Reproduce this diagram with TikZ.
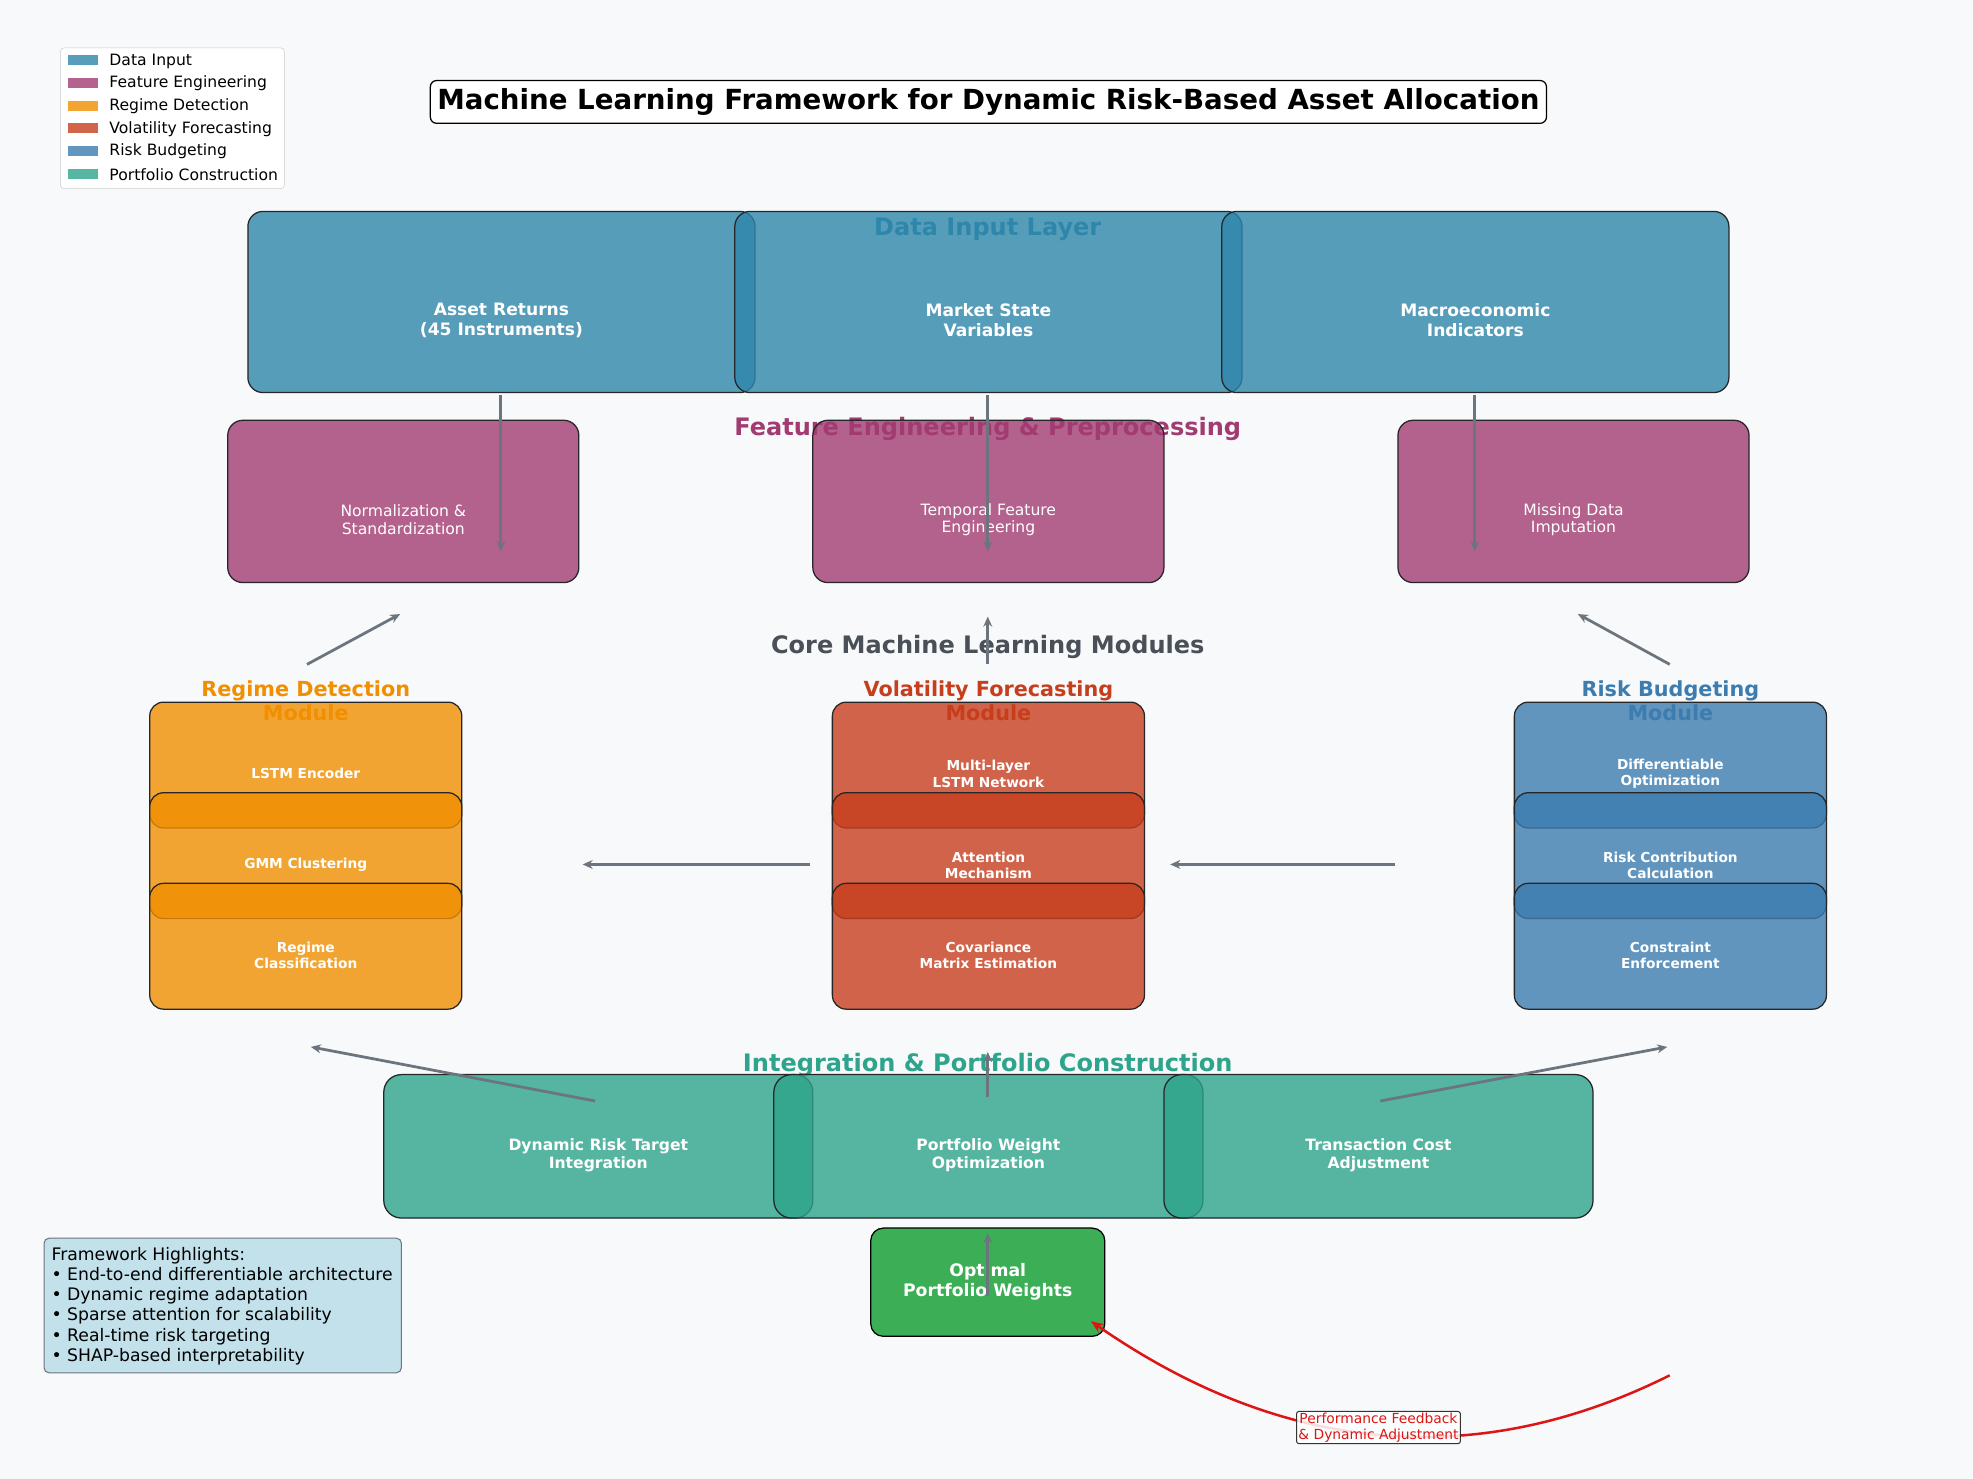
\documentclass[tikz,border=0pt]{standalone}
\usepackage{fontspec}
\setmainfont{DejaVu Sans}
\usetikzlibrary{arrows.meta}
\definecolor{bgc}{HTML}{F8F9FA}
\definecolor{cdata}{HTML}{2E86AB}
\definecolor{cfeat}{HTML}{A23B72}
\definecolor{creg}{HTML}{F18F01}
\definecolor{cvol}{HTML}{C73E1D}
\definecolor{crisk}{HTML}{3C7CAF}
\definecolor{cport}{HTML}{2DA48B}
\definecolor{cgreen}{HTML}{28A745}
\definecolor{cgray}{HTML}{6C757D}
\definecolor{ccore}{HTML}{495057}
\definecolor{cred}{HTML}{DD1515}
\definecolor{cblue}{HTML}{ADD8E6}
\tikzset{
  every node/.style={inner sep=0pt, outer sep=0pt},
  blk/.style={draw=black!85, line width=1pt, rounded corners=12pt, fill opacity=0.8},
  databox/.style={blk, fill=cdata, minimum width=403pt, minimum height=144pt},
  featbox/.style={blk, fill=cfeat, minimum width=279pt, minimum height=129pt},
  subbox/.style={blk, minimum width=248pt, minimum height=100pt, rounded corners=11pt},
  portbox/.style={blk, fill=cport, minimum width=341pt, minimum height=114pt, rounded corners=14pt},
  layertitle/.style={font=\fontsize{19.1}{22}\selectfont\bfseries},
  modtitle/.style={font=\fontsize{16.5}{19}\selectfont\bfseries, align=center},
  datatext/.style={text=white, font=\fontsize{13.6}{16}\selectfont\bfseries, align=center},
  feattext/.style={text=white, font=\fontsize{12.4}{14}\selectfont, align=center},
  subtext/.style={text=white, font=\fontsize{10.9}{13}\selectfont\bfseries, align=center},
  porttext/.style={text=white, font=\fontsize{12.4}{14}\selectfont\bfseries, align=center},
  flow/.style={draw=cgray, line width=2.2pt, -{Stealth[length=8pt,width=7pt]}},
  legpatch/.style={fill opacity=0.8, minimum width=24pt, minimum height=8pt},
  legtext/.style={anchor=west, font=\fontsize{12.4}{14}\selectfont},
}
\begin{document}
\begin{tikzpicture}[x=1pt,y=-1pt]
\fill[bgc] (0,0) rectangle (1568,1175);
\useasboundingbox (0,0) rectangle (1568,1175);

% legend
\node[draw=black!20, fill=white, rounded corners=3pt, minimum width=178pt, minimum height=112pt] (legend) at (137,94) {};
\node[legpatch, fill=cdata] (lp1) at (66,48) {};
\node[legtext] (lt1) at (87,48.5) {Data Input};
\node[legpatch, fill=cfeat] (lp2) at (66,66) {};
\node[legtext] (lt2) at (87,66.5) {Feature Engineering};
\node[legpatch, fill=creg] (lp3) at (66,84) {};
\node[legtext] (lt3) at (87,84.5) {Regime Detection};
\node[legpatch, fill=cvol] (lp4) at (66,102) {};
\node[legtext] (lt4) at (87,102.5) {Volatility Forecasting};
\node[legpatch, fill=crisk] (lp5) at (66,120) {};
\node[legtext] (lt5) at (87,120.5) {Risk Budgeting};
\node[legpatch, fill=cport] (lp6) at (66,138) {};
\node[legtext] (lt6) at (87,138.5) {Portfolio Construction};

% title
\node[draw=black, line width=1pt, fill=white, rounded corners=5pt, minimum width=887pt, minimum height=34pt] (titlebox) at (785.5,81) {};
\node[font=\fontsize{22}{26}\selectfont\bfseries] (title) at (785.5,81) {Machine Learning Framework for Dynamic Risk-Based Asset Allocation};

% layer titles (under boxes)
\node[layertitle, text=cdata] (tdata) at (785,182) {Data Input Layer};
\node[layertitle, text=cfeat] (tfeat) at (785,341) {Feature Engineering \& Preprocessing};
\node[layertitle, text=ccore] (tcore) at (785,514) {Core Machine Learning Modules};
\node[layertitle, text=cport] (tport) at (785,846) {Integration \& Portfolio Construction};
\node[modtitle, text=creg] (treg) at (243,557) {Regime Detection\\Module};
\node[modtitle, text=cvol] (tvol) at (785.5,557) {Volatility Forecasting\\Module};
\node[modtitle, text=crisk] (trisk) at (1327.5,557) {Risk Budgeting\\Module};

% data input boxes
\node[databox] (d1) at (398.5,240) {};
\node[databox] (d2) at (785.5,240) {};
\node[databox] (d3) at (1172.5,240) {};
\node[datatext] (d1t) at (398.5,254.5) {Asset Returns\\(45 Instruments)};
\node[datatext] (d2t) at (785.5,254.5) {Market State\\Variables};
\node[datatext] (d3t) at (1172.5,254.5) {Macroeconomic\\Indicators};

% feature boxes
\node[featbox] (f1) at (320.5,398.5) {};
\node[featbox] (f2) at (785.5,398.5) {};
\node[featbox] (f3) at (1250.5,398.5) {};
\node[feattext] (f1t) at (320.5,413) {Normalization \&\\Standardization};
\node[feattext] (f2t) at (785.5,413) {Temporal Feature\\Engineering};
\node[feattext] (f3t) at (1250.5,413) {Missing Data\\Imputation};

% regime module
\node[subbox, fill=creg] (r1) at (243,608) {};
\node[subbox, fill=creg] (r2) at (243,680) {};
\node[subbox, fill=creg] (r3) at (243,752) {};
\node[subtext] (r1t) at (243,615) {LSTM Encoder};
\node[subtext] (r2t) at (243,687.5) {GMM Clustering};
\node[subtext] (r3t) at (243,759.5) {Regime\\Classification};

% volatility module
\node[subbox, fill=cvol] (v1) at (785.5,608) {};
\node[subbox, fill=cvol] (v2) at (785.5,680) {};
\node[subbox, fill=cvol] (v3) at (785.5,752) {};
\node[subtext] (v1t) at (785.5,615) {Multi-layer\\LSTM Network};
\node[subtext] (v2t) at (785.5,687.5) {Attention\\Mechanism};
\node[subtext] (v3t) at (785.5,759.5) {Covariance\\Matrix Estimation};

% risk module
\node[subbox, fill=crisk] (k1) at (1327.5,608) {};
\node[subbox, fill=crisk] (k2) at (1327.5,680) {};
\node[subbox, fill=crisk] (k3) at (1327.5,752) {};
\node[subtext] (k1t) at (1327.5,615) {Differentiable\\Optimization};
\node[subtext] (k2t) at (1327.5,687.5) {Risk Contribution\\Calculation};
\node[subtext] (k3t) at (1327.5,759.5) {Constraint\\Enforcement};

% integration boxes
\node[portbox] (p1) at (475.5,911) {};
\node[portbox] (p2) at (785.5,911) {};
\node[portbox] (p3) at (1095.5,911) {};
\node[porttext] (p1t) at (475.5,918) {Dynamic Risk Target\\Integration};
\node[porttext] (p2t) at (785.5,918) {Portfolio Weight\\Optimization};
\node[porttext] (p3t) at (1095.5,918) {Transaction Cost\\Adjustment};

% optimal weights
\node[draw=black, line width=1pt, fill=cgreen, fill opacity=0.9, rounded corners=10pt, minimum width=186pt, minimum height=86pt] (opt) at (785,1019) {};
\node[text=white, font=\fontsize{13.7}{16}\selectfont\bfseries, align=center] (optt) at (785,1019) {Optimal\\Portfolio Weights};

% highlights
\node[draw=cgray, line width=0.8pt, fill=cblue, fill opacity=0.7, rounded corners=4pt, minimum width=284pt, minimum height=107pt] (hl) at (177,1037.5) {};
\node[anchor=west, align=left, font=\fontsize{13.7}{16}\selectfont] (hlt) at (41,1038) {Framework Highlights:\\
• End-to-end differentiable architecture\\
• Dynamic regime adaptation\\
• Sparse attention for scalability\\
• Real-time risk targeting\\
• SHAP-based interpretability};

% connector end points
\coordinate (a1s) at (398,314);  \coordinate (a1e) at (398,438);
\coordinate (a2s) at (785,314);  \coordinate (a2e) at (785,438);
\coordinate (a3s) at (1172,314); \coordinate (a3e) at (1172,438);
\coordinate (a4s) at (244,528);  \coordinate (a4e) at (318,488);
\coordinate (a5s) at (785,528);  \coordinate (a5e) at (785,490);
\coordinate (a6s) at (1327,528); \coordinate (a6e) at (1254,488);
\coordinate (a7s) at (644,687);  \coordinate (a7e) at (463,687);
\coordinate (a8s) at (1109,687); \coordinate (a8e) at (930,687);
\coordinate (a9s) at (473,875);  \coordinate (a9e) at (247,832);
\coordinate (a10s) at (785,872); \coordinate (a10e) at (785,836);
\coordinate (a11s) at (1097,875); \coordinate (a11e) at (1325,832);
\coordinate (a12s) at (785,1030); \coordinate (a12e) at (785,980);

\draw[flow] (a1s) -- (a1e);
\draw[flow] (a2s) -- (a2e);
\draw[flow] (a3s) -- (a3e);
\draw[flow] (a4s) -- (a4e);
\draw[flow] (a5s) -- (a5e);
\draw[flow] (a6s) -- (a6e);
\draw[flow] (a7s) -- (a7e);
\draw[flow] (a8s) -- (a8e);
\draw[flow] (a9s) -- (a9e);
\draw[flow] (a10s) -- (a10e);
\draw[flow] (a11s) -- (a11e);
\draw[flow] (a12s) -- (a12e);

% feedback loop
\coordinate (fbs) at (1327,1093);
\coordinate (fbe) at (867,1050);
\draw[draw=cred, line width=2pt, -{Stealth[length=10pt,width=8pt]}] (fbs) .. controls (1172.7,1170) and (1019,1155.7) .. (fbe);
\node[draw=black!80, line width=0.8pt, fill=white, fill opacity=0.85, text opacity=1, rounded corners=2pt, inner xsep=1.5pt, inner ysep=1pt, text=cred, align=center, font=\fontsize{11}{13}\selectfont] (fbl) at (1095.5,1134.5) {Performance Feedback\\\& Dynamic Adjustment};
\end{tikzpicture}
\end{document}
